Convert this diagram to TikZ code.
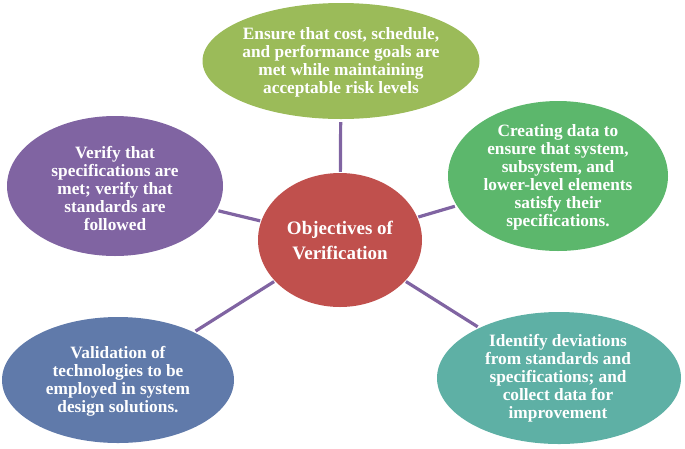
\documentclass[tikz,border=0pt]{standalone}
\usepackage{fontspec}
\setmainfont{Liberation Serif}
\usetikzlibrary{shapes.geometric}
\definecolor{cgreenA}{RGB}{155,187,89}
\definecolor{cgreenB}{RGB}{92,183,108}
\definecolor{cpurple}{RGB}{128,100,162}
\definecolor{cblue}{RGB}{96,122,170}
\definecolor{cteal}{RGB}{94,176,165}
\definecolor{cred}{RGB}{192,80,77}
\definecolor{cline}{RGB}{128,100,162}
\tikzset{
  bubble/.style={ellipse, inner sep=0pt, draw=none},
  btext/.style={text=white, font=\bfseries\fontsize{17.3}{18}\selectfont, align=center, inner sep=0pt},
  link/.style={draw=cline, line width=3.2pt},
}
\begin{document}
\begin{tikzpicture}[x=1pt,y=-1pt]
\useasboundingbox (0,0) rectangle (685,448);
% bubbles
\node[bubble, fill=cred, minimum width=164pt, minimum height=134pt] (c) at (340,240) {};
\node[bubble, fill=cgreenA, minimum width=277pt, minimum height=116pt] (t) at (341,61) {};
\node[bubble, fill=cpurple, minimum width=216pt, minimum height=140pt] (l) at (115,186) {};
\node[bubble, fill=cgreenB, minimum width=220pt, minimum height=150pt] (r) at (558,176) {};
\node[bubble, fill=cblue, minimum width=232pt, minimum height=126pt] (bl) at (118,380) {};
\node[bubble, fill=cteal, minimum width=244pt, minimum height=132pt] (br) at (559,378) {};
% links
\draw[link, shorten <=1pt, shorten >=3pt] (c) -- (t);
\draw[link, shorten <=1pt, shorten >=2pt] (c) -- (l);
\draw[link, shorten <=1pt, shorten >=2pt] (c) -- (r);
\draw[link, shorten <=1pt, shorten >=2pt] (c) -- (bl);
\draw[link, shorten <=1pt, shorten >=2pt] (c) -- (br);
% texts
\node[btext, font=\bfseries\fontsize{19}{25}\selectfont] (ct) at (c.center) {Objectives of\\Verification};
\node[btext] (tt) at (341,62) {Ensure that cost, schedule,\\and performance goals are\\met while maintaining\\acceptable risk levels};
\node[btext] (lt) at (115,188) {Verify that\\specifications are\\met; verify that\\standards are\\followed};
\node[btext] (rt) at (558,177) {Creating data to\\ensure that system,\\subsystem, and\\lower-level elements\\satisfy their\\specifications.};
\node[btext] (blt) at (118,381) {Validation of\\technologies to be\\employed in system\\design solutions.};
\node[btext] (brt) at (558,378) {Identify deviations\\from standards and\\specifications; and\\collect data for\\improvement};
\end{tikzpicture}
\end{document}
